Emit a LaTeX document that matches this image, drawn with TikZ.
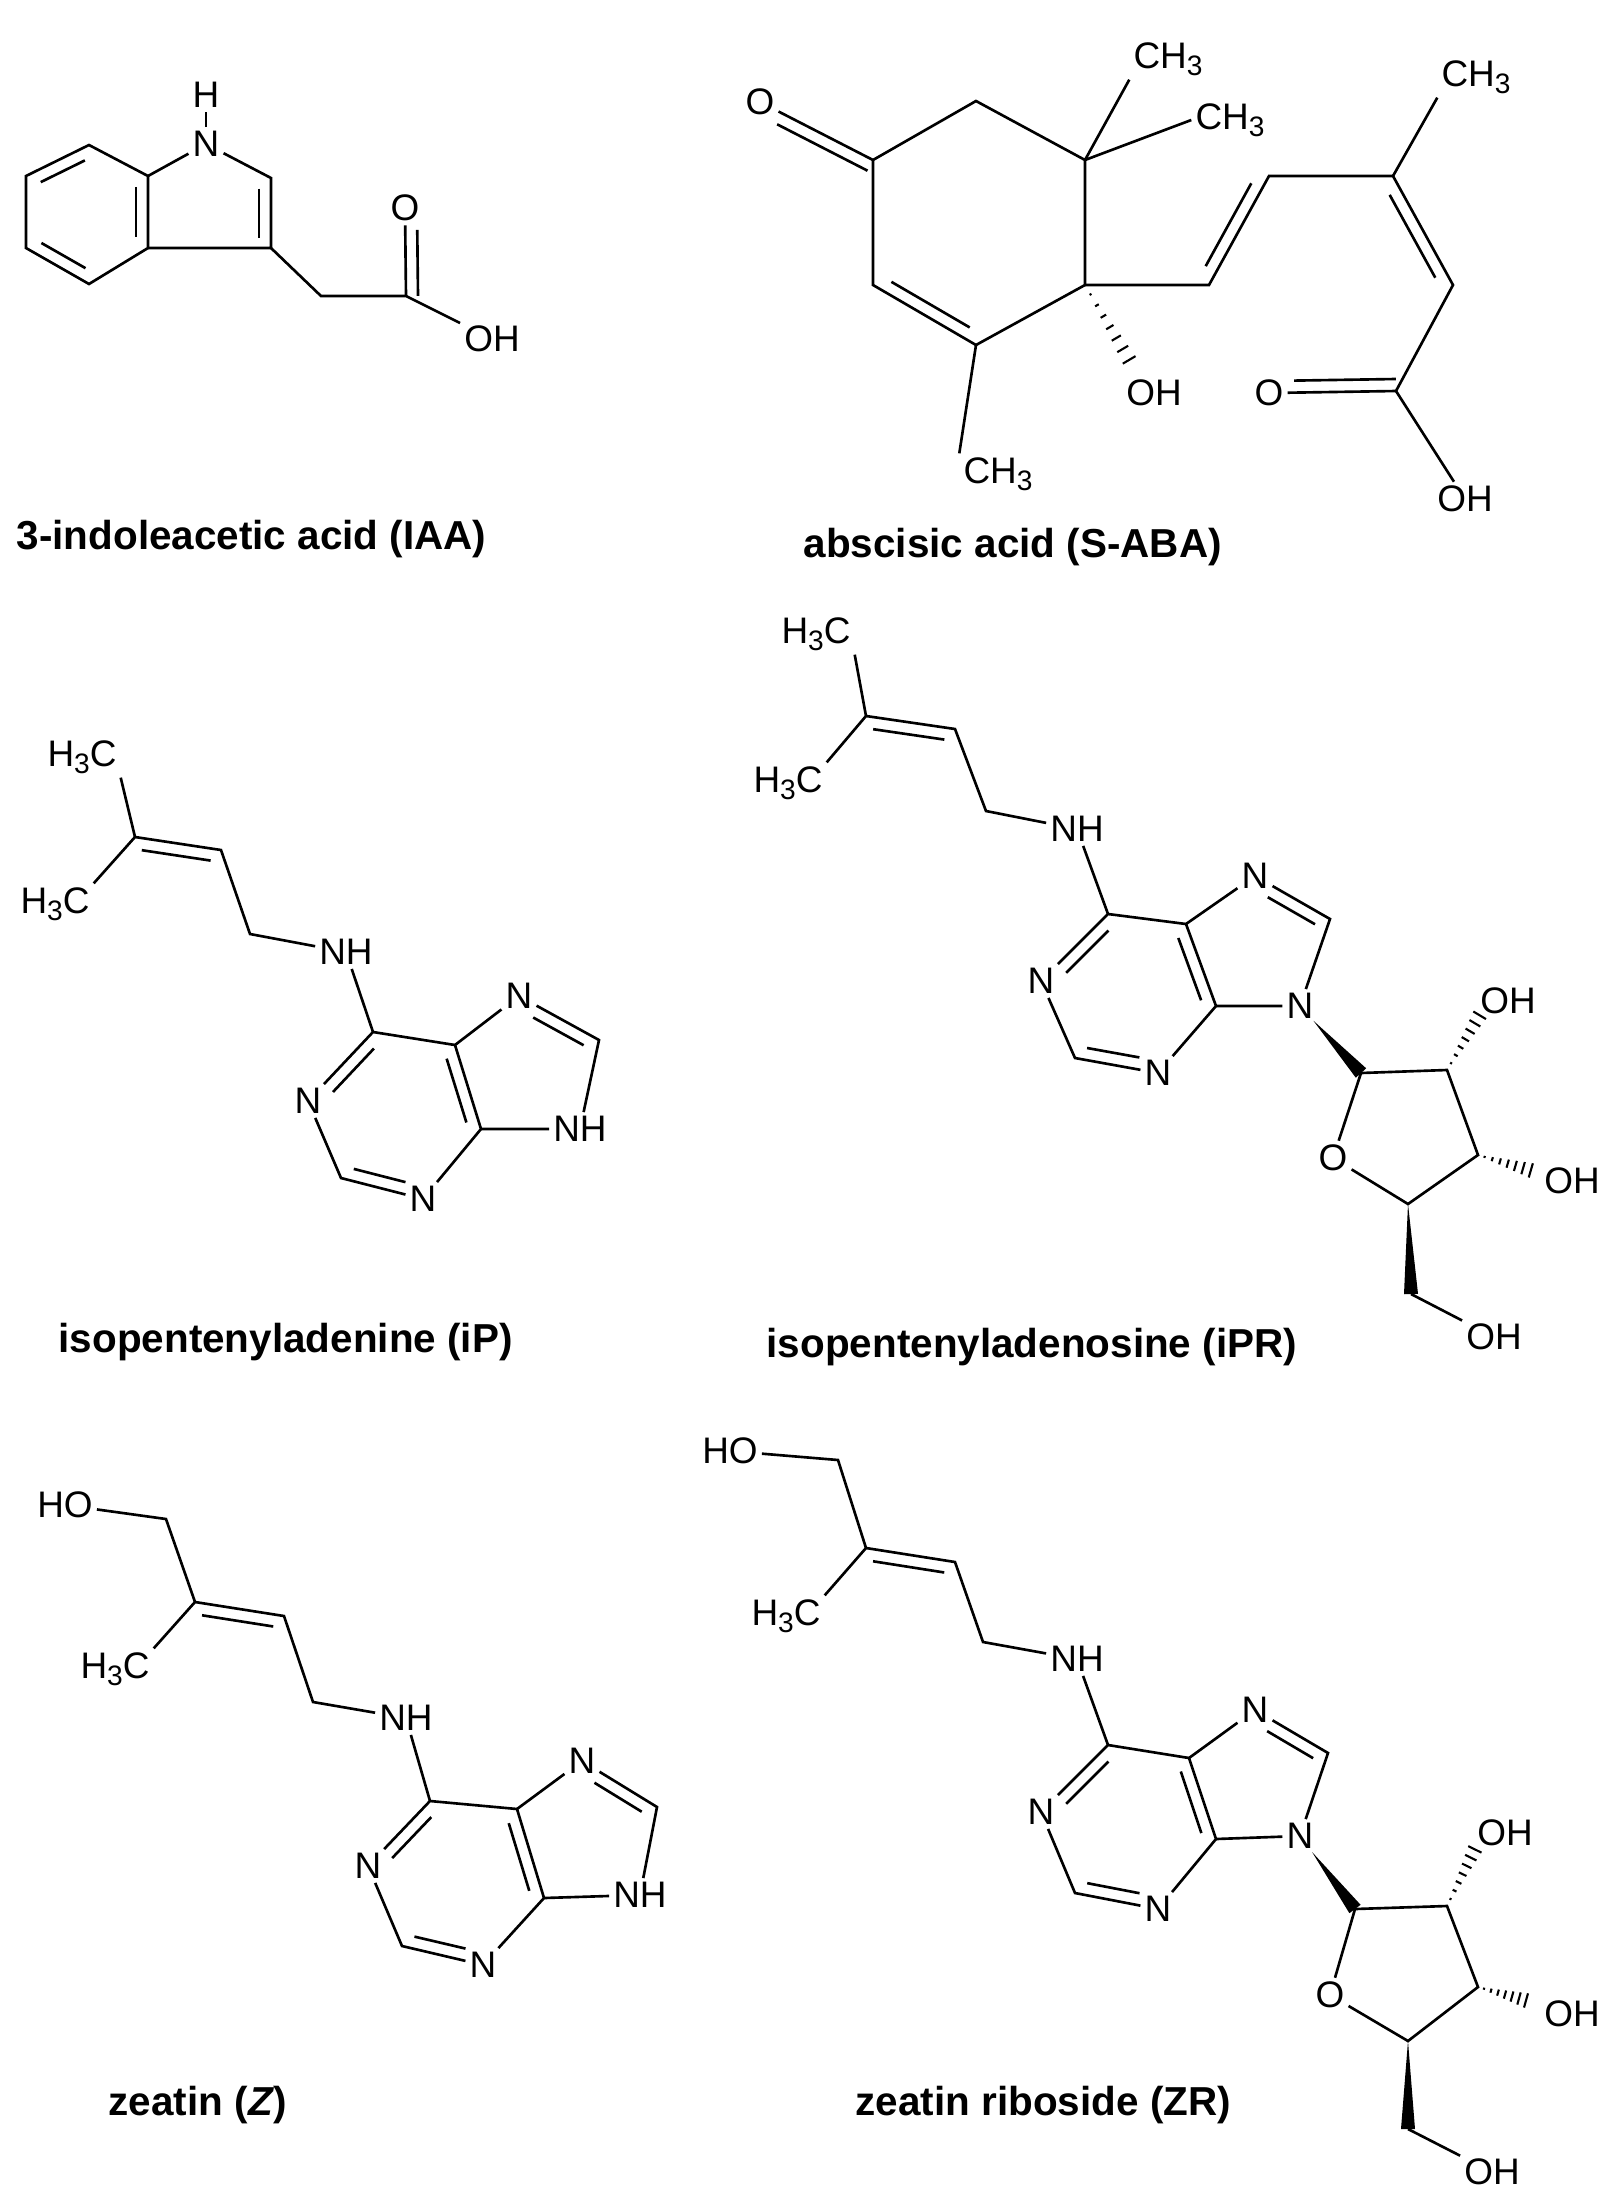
\documentclass[tikz,border=0pt]{standalone}
\usepackage{fontspec}
\setmainfont{Liberation Sans}
\usetikzlibrary{calc}
\newcommand\atfont{\fontsize{10.5}{12}\selectfont}
\newcommand\labfont{\fontsize{11.5}{13}\selectfont\bfseries}
\newcommand\msub[1]{\raisebox{-0.35ex}{\fontsize{8}{9}\selectfont #1}}
\newcommand\dbl[5]{\draw[bond] ($(#1)!#4!(#2)!0.12cm!#3:(#2)$) -- ($(#2)!#5!(#1)!0.12cm!-#3:(#1)$);}
\newcommand\wedgeb[3]{\fill ($(#1)!#3!(#2)$) -- ($(#2)!0.07cm!90:(#1)$) -- ($(#2)!0.07cm!-90:(#1)$) -- cycle;}
\newcommand\hashb[2]{\foreach \t/\l in {0.12/0.3pt,0.26/0.6pt,0.4/0.9pt,0.54/1.2pt,0.68/1.5pt,0.82/1.8pt,0.96/2.1pt}{\draw[line width=0.6pt] ($(#1)!\t!(#2)!\l!90:(#2)$) -- ($(#1)!\t!(#2)!\l!-90:(#2)$);}}
\newcommand\purinebonds[1]{%
\draw[bond] (#1C6) -- (#1N1) -- (#1C2) -- (#1N3) -- (#1C4) -- (#1C5) -- (#1C6);
\draw[bond] (#1C5) -- (#1N7) -- (#1C8) -- (#1N9) -- (#1C4);
\dbl{#1N1}{#1C6}{-90}{0.25}{0.12}
\dbl{#1N3}{#1C2}{-90}{0.25}{0.12}
\dbl{#1C5}{#1C4}{-90}{0.12}{0.12}
\dbl{#1N7}{#1C8}{-90}{0.25}{0.12}}
\tikzset{bond/.style={line width=0.75pt},
 atm/.style={font=\atfont, inner sep=1pt},
 lab/.style={font=\labfont, anchor=west, inner sep=0pt}}
\begin{document}
\begin{tikzpicture}[x=0.01cm,y=-0.01cm]
\useasboundingbox[fill=white] (0,0) rectangle (1597,2199);
% ===== IAA =====
\coordinate (a1) at (89,145); \coordinate (a2) at (148,176); \coordinate (a3) at (148,248);
\coordinate (a4) at (89,284); \coordinate (a5) at (26,248); \coordinate (a6) at (26,176);
\node[atm] (aN) at (206,144) {N}; \node[atm] (aH) at (206,95) {H};
\coordinate (a8) at (271,178); \coordinate (a9) at (271,248);
\coordinate (a10) at (321,296); \coordinate (a11) at (406,296);
\node[atm] (aO) at (405,208) {O}; \node[atm] (aOH) at (492,339) {OH};
\draw[bond] (a1) -- (a2) -- (a3) -- (a4) -- (a5) -- (a6) -- cycle;
\draw[bond] (a2) -- (aN) -- (a8) -- (a9) -- (a3);
\draw[bond] (aN) -- (aH);
\draw[bond] (a9) -- (a10) -- (a11) -- (aOH);
\draw[bond] (a11) -- (aO);
\dbl{a6}{a1}{-90}{0.15}{0.15}
\dbl{a4}{a5}{-90}{0.15}{0.15}
\dbl{a2}{a3}{-90}{0.15}{0.15}
\dbl{a8}{a9}{-90}{0.15}{0.15}
\dbl{a11}{aO}{-90}{0}{0.25}
\node[lab] (labIAA) at (16,539) {3-indoleacetic acid (IAA)};
% ===== ABA =====
\node[atm] (bO) at (760,102) {O};
\coordinate (b1) at (873,160); \coordinate (b2) at (976,101); \coordinate (b3) at (1085,160);
\coordinate (b4) at (1085,285); \coordinate (b5) at (976,345); \coordinate (b6) at (873,285);
\node[atm] (bMa) at (1168,59) {CH\msub{3}};
\node[atm] (bMb) at (1230,120) {CH\msub{3}};
\node[atm] (bMc) at (998,474) {CH\msub{3}};
\node[atm] (bOH) at (1154,393) {OH};
\coordinate (bh) at (1131,363);
\draw[bond] (b1) -- (b2) -- (b3) -- (b4) -- (b5) -- (b6) -- cycle;
\draw[bond] (b1) -- (bO);
\dbl{b1}{bO}{90}{0}{0.2}
\dbl{b5}{b6}{-90}{0.12}{0.12}
\draw[bond] (b3) -- (bMa.south west);
\draw[bond] (b3) -- (bMb.west);
\draw[bond] (b5) -- (bMc.north west);
\hashb{b4}{bh}
\coordinate (c1) at (1209,285); \coordinate (c2) at (1269,176); \coordinate (c3) at (1393,176);
\coordinate (c4) at (1453,285); \coordinate (c5) at (1396,391);
\node[atm] (cM) at (1476,77) {CH\msub{3}};
\node[atm] (cO) at (1269,393) {O};
\node[atm] (cOH) at (1465,499) {OH};
\draw[bond] (b4) -- (c1) -- (c2) -- (c3) -- (c4) -- (c5) -- (cO);
\draw[bond] (c3) -- (cM.south west);
\draw[bond] (c5) -- (cOH);
\dbl{c1}{c2}{90}{0.12}{0.12}
\dbl{c3}{c4}{-90}{0.12}{0.12}
\dbl{c5}{cO}{-90}{0}{0.2}
\node[lab] (labABA) at (803,547) {abscisic acid (S-ABA)};
% ===== iP =====
\node[atm] (dM1) at (82,757) {H\msub{3}C};
\node[atm] (dM2) at (55,904) {H\msub{3}C};
\coordinate (d1) at (135,837); \coordinate (d2) at (221,850); \coordinate (d3) at (250,934);
\node[atm] (dNH) at (346,952) {NH};
\coordinate (dC6) at (373,1032); \node[atm] (dN1) at (308,1101) {N};
\coordinate (dC2) at (341,1178); \node[atm] (dN3) at (423,1199) {N};
\coordinate (dC4) at (481,1129); \coordinate (dC5) at (455,1045);
\node[atm] (dN7) at (519,996) {N}; \coordinate (dC8) at (599,1040);
\node[atm] (dN9) at (580,1129) {NH};
\draw[bond] (dM1.south east) -- (d1) -- (d2) -- (d3) -- (dNH) -- (dC6);
\draw[bond] (d1) -- (dM2.north east);
\dbl{d1}{d2}{-90}{0.1}{0.1}
\purinebonds{d}
\node[lab] (labiP) at (58,1342) {isopentenyladenine (iP)};
% ===== iPR =====
\node[atm] (eM1) at (816,634) {H\msub{3}C};
\node[atm] (eM2) at (788,783) {H\msub{3}C};
\coordinate (e1) at (866,716); \coordinate (e2) at (955,729); \coordinate (e3) at (986,811);
\node[atm] (eNH) at (1077,829) {NH};
\coordinate (eC6) at (1108,914); \node[atm] (eN1) at (1041,981) {N};
\coordinate (eC2) at (1075,1058); \node[atm] (eN3) at (1158,1073) {N};
\coordinate (eC4) at (1216,1006); \coordinate (eC5) at (1186,924);
\node[atm] (eN7) at (1255,876) {N}; \coordinate (eC8) at (1330,919);
\node[atm] (eN9) at (1300,1006) {N};
\draw[bond] (eM1.south east) -- (e1) -- (e2) -- (e3) -- (eNH) -- (eC6);
\draw[bond] (e1) -- (eM2.north east);
\dbl{e1}{e2}{-90}{0.1}{0.1}
\purinebonds{e}
\coordinate (eR1) at (1361,1073); \coordinate (eR2) at (1447,1070); \coordinate (eR3) at (1478,1155);
\coordinate (eR4) at (1408,1204); \node[atm] (eRO) at (1333,1158) {O};
\coordinate (eR5) at (1411,1294);
\node[atm] (eOH2) at (1508,1001) {OH}; \coordinate (eh2) at (1481,1013);
\node[atm] (eOH3) at (1572,1181) {OH}; \coordinate (eh3) at (1533,1171);
\node[atm] (eOH5) at (1494,1337) {OH};
\draw[bond] (eRO) -- (eR1) -- (eR2) -- (eR3) -- (eR4) -- (eRO);
\wedgeb{eN9}{eR1}{0.22}
\wedgeb{eR4}{eR5}{0}
\hashb{eR2}{eh2}
\hashb{eR3}{eh3}
\draw[bond] (eR5) -- (eOH5);
\node[lab] (labiPR) at (766,1347) {isopentenyladenosine (iPR)};
% ===== Z =====
\node[atm] (fHO) at (65,1505) {HO};
\coordinate (f0) at (166,1519);
\coordinate (f1) at (195,1602); \node[atm] (fM) at (115,1669) {H\msub{3}C};
\coordinate (f2) at (284,1616); \coordinate (f3) at (313,1702);
\node[atm] (fNH) at (406,1718) {NH};
\coordinate (fC6) at (430,1801); \node[atm] (fN1) at (368,1866) {N};
\coordinate (fC2) at (402,1946); \node[atm] (fN3) at (483,1965) {N};
\coordinate (fC4) at (544,1898); \coordinate (fC5) at (517,1809);
\node[atm] (fN7) at (582,1761) {N}; \coordinate (fC8) at (657,1807);
\node[atm] (fN9) at (640,1895) {NH};
\draw[bond] (fHO) -- (f0) -- (f1) -- (f2) -- (f3) -- (fNH) -- (fC6);
\draw[bond] (f1) -- (fM.north east);
\dbl{f1}{f2}{-90}{0.1}{0.1}
\purinebonds{f}
\node[lab] (labZ) at (108,2105) {zeatin (\textit{Z})};
% ===== ZR =====
\node[atm] (gHO) at (730,1451) {HO};
\coordinate (g0) at (838,1460);
\coordinate (g1) at (866,1548); \node[atm] (gM) at (786,1616) {H\msub{3}C};
\coordinate (g2) at (955,1562); \coordinate (g3) at (983,1642);
\node[atm] (gNH) at (1077,1659) {NH};
\coordinate (gC6) at (1108,1745); \node[atm] (gN1) at (1041,1812) {N};
\coordinate (gC2) at (1075,1893); \node[atm] (gN3) at (1158,1909) {N};
\coordinate (gC4) at (1216,1839); \coordinate (gC5) at (1189,1758);
\node[atm] (gN7) at (1255,1710) {N}; \coordinate (gC8) at (1328,1753);
\node[atm] (gN9) at (1300,1836) {N};
\draw[bond] (gHO) -- (g0) -- (g1) -- (g2) -- (g3) -- (gNH) -- (gC6);
\draw[bond] (g1) -- (gM.north east);
\dbl{g1}{g2}{-90}{0.1}{0.1}
\purinebonds{g}
\coordinate (gR1) at (1355,1909); \coordinate (gR2) at (1447,1906); \coordinate (gR3) at (1478,1987);
\coordinate (gR4) at (1408,2041); \node[atm] (gRO) at (1330,1995) {O};
\coordinate (gR5) at (1408,2129);
\node[atm] (gOH2) at (1505,1833) {OH}; \coordinate (gh2) at (1476,1847);
\node[atm] (gOH3) at (1572,2014) {OH}; \coordinate (gh3) at (1528,2001);
\node[atm] (gOH5) at (1492,2172) {OH};
\draw[bond] (gRO) -- (gR1) -- (gR2) -- (gR3) -- (gR4) -- (gRO);
\wedgeb{gN9}{gR1}{0.22}
\wedgeb{gR4}{gR5}{0}
\hashb{gR2}{gh2}
\hashb{gR3}{gh3}
\draw[bond] (gR5) -- (gOH5);
\node[lab] (labZR) at (855,2105) {zeatin riboside (ZR)};
\end{tikzpicture}
\end{document}
